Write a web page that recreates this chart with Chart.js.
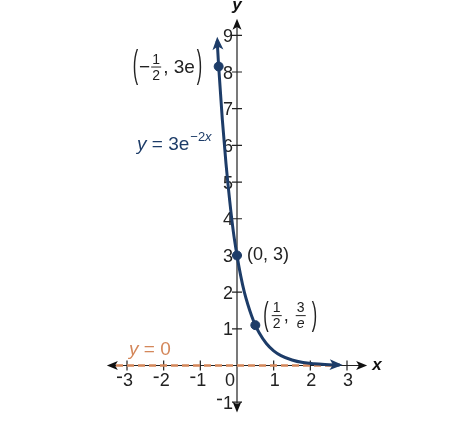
<!DOCTYPE html>
<html>
<head>
<meta charset="utf-8">
<script src="https://cdn.jsdelivr.net/npm/chart.js@4/dist/chart.umd.min.js"></script>
<style>
  body { margin: 0; background: #fff; }
  #wrap { width: 474px; height: 426px; position: relative; }
</style>
</head>
<body>
<div id="wrap"><canvas id="graph"></canvas></div>
<script>
// values
const curveX = [-0.54, -0.5, -0.4, -0.3, -0.2, -0.1, 0, 0.1, 0.2, 0.3, 0.4, 0.5, 0.6, 0.8, 1.0, 1.2, 1.5, 1.8, 2.1, 2.4, 2.8];
const curveY = [8.85, 8.15, 6.7, 5.5, 4.5, 3.65, 3.0, 2.45, 2.0, 1.65, 1.35, 1.1, 0.9, 0.6, 0.4, 0.27, 0.15, 0.08, 0.045, 0.025, 0.01];
const keyX = [-0.5, 0, 0.5];
const keyY = [8.15, 3, 1.1];
const asymX = [-3.3, 2.6];
const asymY = [0, 0];
const xTicks = [-3, -2, -1, 1, 2, 3];
const xTickLabels = ['-3', '-2', '-1', '1', '2', '3'];
const yTicks = [-1, 1, 2, 3, 4, 5, 6, 7, 8, 9];
const yTickLabels = ['-1', '1', '2', '3', '4', '5', '6', '7', '8', '9'];

const NAVY = '#1d3c68';
const ORANGE = '#d4875a';
const FONT = '"Liberation Sans", Arial, sans-serif';

const toPts = (xs, ys) => xs.map((x, i) => ({ x, y: ys[i] }));

// filled arrow head with tip at (x, y) pointing along angle a
function arrowHead(ctx, x, y, a, len, half, color) {
  ctx.save();
  ctx.translate(x, y);
  ctx.rotate(a);
  ctx.fillStyle = color;
  ctx.beginPath();
  ctx.moveTo(0, 0);
  ctx.lineTo(-len, -half);
  ctx.lineTo(-len * 0.75, 0);
  ctx.lineTo(-len, half);
  ctx.closePath();
  ctx.fill();
  ctx.restore();
}

// tall parenthesis, returns width used
function paren(ctx, ch, x, cy, h) {
  ctx.save();
  ctx.font = '18px ' + FONT;
  ctx.textBaseline = 'middle';
  ctx.textAlign = 'left';
  const w = ctx.measureText(ch).width;
  ctx.translate(x, cy);
  ctx.scale(0.9, h / 18);
  ctx.fillText(ch, 0, 0);
  ctx.restore();
  return w * 0.9;
}

// small stacked fraction centred on cx, cy
function frac(ctx, cx, cy, num, den, italicDen) {
  ctx.save();
  ctx.textAlign = 'center';
  ctx.textBaseline = 'alphabetic';
  ctx.font = '14px ' + FONT;
  ctx.fillText(num, cx, cy - 3);
  ctx.font = (italicDen ? 'italic ' : '') + '14px ' + FONT;
  ctx.fillText(den, cx, cy + 13);
  ctx.lineWidth = 1;
  ctx.beginPath();
  ctx.moveTo(cx - 5, cy + 0.5);
  ctx.lineTo(cx + 5, cy + 0.5);
  ctx.stroke();
  ctx.restore();
}

function text(ctx, t, x, y, font) {
  ctx.font = font;
  ctx.fillText(t, x, y);
  return ctx.measureText(t).width;
}

// tick label with a short raised minus like the reference
function tickLabel(ctx, label, x, y) {
  ctx.font = '18px ' + FONT;
  const neg = label[0] === '-';
  const digits = neg ? label.slice(1) : label;
  const w = ctx.measureText(digits).width;
  ctx.fillText(digits, x, y);
  if (neg) {
    ctx.fillRect(x - 6, y - 10, 5, 1.6);
  }
  return w;
}

const axesPlugin = {
  id: 'axesPlugin',
  beforeDatasetsDraw(chart) {
    const ctx = chart.ctx;
    const xs = chart.scales.x, ys = chart.scales.y;
    const ox = xs.getPixelForValue(0), oy = ys.getPixelForValue(0);
    const left = xs.getPixelForValue(-3.55), right = xs.getPixelForValue(3.55);
    const top = ys.getPixelForValue(9.45), bottom = ys.getPixelForValue(-1.28);
    ctx.save();
    ctx.strokeStyle = '#222';
    ctx.lineWidth = 1.2;
    ctx.beginPath();
    ctx.moveTo(left + 4, oy); ctx.lineTo(right - 4, oy);
    ctx.moveTo(ox, top + 4); ctx.lineTo(ox, bottom - 4);
    ctx.stroke();
    arrowHead(ctx, left, oy, Math.PI, 11, 4.5, '#111');
    arrowHead(ctx, right, oy, 0, 11, 4.5, '#111');
    arrowHead(ctx, ox, top, -Math.PI / 2, 11, 4.5, '#111');
    arrowHead(ctx, ox, bottom, Math.PI / 2, 11, 4.5, '#111');

    // tick marks
    ctx.lineWidth = 1.2;
    ctx.beginPath();
    xTicks.forEach(v => {
      const px = xs.getPixelForValue(v);
      ctx.moveTo(px, oy - 5); ctx.lineTo(px, oy + 5);
    });
    yTicks.forEach(v => {
      const py = ys.getPixelForValue(v);
      ctx.moveTo(ox - 5, py); ctx.lineTo(ox + 5, py);
    });
    ctx.stroke();

    // tick labels
    ctx.fillStyle = '#222';
    ctx.textAlign = 'left';
    ctx.textBaseline = 'alphabetic';
    xTicks.forEach((v, i) => {
      const px = xs.getPixelForValue(v);
      tickLabel(ctx, xTickLabels[i], px - 4, oy + 21);
    });
    tickLabel(ctx, '0', ox - 12, oy + 21);
    yTicks.forEach((v, i) => {
      const py = ys.getPixelForValue(v);
      ctx.font = '18px ' + FONT;
      const lbl = yTickLabels[i].replace('-', '');
      const w = ctx.measureText(lbl).width;
      tickLabel(ctx, yTickLabels[i], ox - 4 - w, py + 6.5);
    });

    // axis names
    ctx.font = 'italic bold 17px ' + FONT;
    ctx.textAlign = 'center';
    ctx.textBaseline = 'middle';
    ctx.fillStyle = '#111';
    ctx.fillText('y', ox, top - 14);
    ctx.textAlign = 'left';
    ctx.fillText('x', right + 5, oy);
    ctx.restore();
  },
  afterDatasetsDraw(chart) {
    const ctx = chart.ctx;
    const xs = chart.scales.x, ys = chart.scales.y;
    const px = v => xs.getPixelForValue(v);
    const py = v => ys.getPixelForValue(v);

    ctx.save();
    // arrow heads at both ends of the curve
    const n = curveX.length;
    const a0 = Math.atan2(py(curveY[0]) - py(curveY[1]), px(curveX[0]) - px(curveX[1]));
    arrowHead(ctx, px(curveX[0]), py(curveY[0]) - 4, a0, 13, 5.5, NAVY);
    const a1 = Math.atan2(py(curveY[n - 1]) - py(curveY[n - 2]), px(curveX[n - 1]) - px(curveX[n - 2]));
    arrowHead(ctx, px(curveX[n - 1]) + 3, py(curveY[n - 1]), a1, 13, 5.5, NAVY);

    ctx.textAlign = 'left';
    ctx.textBaseline = 'alphabetic';

    // label ( -1/2, 3e )
    ctx.fillStyle = '#222';
    ctx.strokeStyle = '#222';
    let cx = px(keyX[0]) - 86, cy = py(keyY[0]);
    cx += paren(ctx, '(', cx, cy, 38) + 1;
    cx += text(ctx, '−', cx, cy + 6, '19px ' + FONT) + 6;
    frac(ctx, cx, cy, '1', '2', false);
    cx += 7;
    cx += text(ctx, ', 3e', cx, cy + 6, '19px ' + FONT) + 2;
    paren(ctx, ')', cx, cy, 38);

    // label (0, 3)
    ctx.font = '18px ' + FONT;
    ctx.textBaseline = 'middle';
    ctx.fillText('(0, 3)', px(keyX[1]) + 10, py(keyY[1]));
    ctx.textBaseline = 'alphabetic';

    // label ( 1/2, 3/e )
    cx = px(keyX[2]) + 8; cy = py(keyY[2]) - 10;
    cx += paren(ctx, '(', cx, cy, 34) + 8;
    frac(ctx, cx, cy, '1', '2', false);
    cx += 7;
    cx += text(ctx, ',', cx, cy + 6, '18px ' + FONT) + 12;
    frac(ctx, cx, cy, '3', 'e', true);
    cx += 11;
    paren(ctx, ')', cx, cy, 34);

    // y = 3e^(-2x)
    ctx.fillStyle = NAVY;
    cx = 137; cy = 150;
    cx += text(ctx, 'y', cx, cy, 'italic 19px ' + FONT);
    cx += text(ctx, ' = 3', cx, cy, '19px ' + FONT);
    cx += text(ctx, 'e', cx, cy, '19px ' + FONT) + 1;
    cx += text(ctx, '−2', cx, cy - 9, '13px ' + FONT);
    text(ctx, 'x', cx, cy - 9, 'italic 13px ' + FONT);

    // y = 0
    ctx.fillStyle = ORANGE;
    cx = 129; cy = 355;
    cx += text(ctx, 'y', cx, cy, 'italic 19px ' + FONT);
    text(ctx, ' = 0', cx, cy, '19px ' + FONT);
    ctx.restore();
  }
};

new Chart(document.getElementById('graph'), {
  type: 'scatter',
  data: {
    datasets: [
      {
        data: toPts(keyX, keyY),
        backgroundColor: NAVY,
        borderColor: NAVY,
        pointRadius: 4.5,
        showLine: false,
        order: 0
      },
      {
        data: toPts(curveX, curveY),
        borderColor: NAVY,
        borderWidth: 3,
        pointRadius: 0,
        showLine: true,
        cubicInterpolationMode: 'monotone',
        order: 1
      },
      {
        data: toPts(asymX, asymY),
        borderColor: ORANGE,
        borderWidth: 2.5,
        borderDash: [7, 4],
        pointRadius: 0,
        showLine: true,
        order: 2
      }
    ]
  },
  options: {
    responsive: true,
    maintainAspectRatio: false,
    animation: false,
    layout: { padding: { left: 105, right: 105, top: 17, bottom: 5 } },
    plugins: { legend: { display: false }, tooltip: { enabled: false } },
    scales: {
      x: { type: 'linear', min: -3.6, max: 3.6, display: false },
      y: { type: 'linear', min: -1.5, max: 9.5, display: false }
    }
  },
  plugins: [axesPlugin]
});
</script>
</body>
</html>
